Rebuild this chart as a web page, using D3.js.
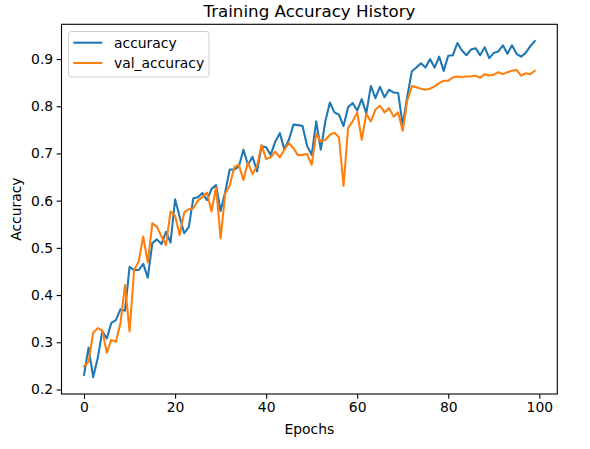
<!DOCTYPE html>
<html><head><meta charset="utf-8">
<script src="https://cdn.jsdelivr.net/npm/d3@7"></script>
<style>body{margin:0;background:#fff}svg{display:block}text{font-family:"DejaVu Sans",sans-serif;fill:#000}</style>
</head><body>
<svg id="c" width="590" height="449"></svg>
<script>
const epochs = d3.range(0, 100);
const accuracy = [0.231,0.289,0.226,0.266,0.323,0.308,0.341,0.347,0.370,0.367,
0.460,0.453,0.453,0.466,0.437,0.510,0.518,0.508,0.534,0.511,
0.603,0.566,0.531,0.544,0.605,0.607,0.616,0.601,0.625,0.633,
0.578,0.618,0.666,0.666,0.672,0.708,0.676,0.693,0.662,0.715,
0.713,0.697,0.725,0.743,0.709,0.729,0.761,0.760,0.758,0.716,
0.697,0.768,0.708,0.768,0.808,0.787,0.782,0.758,0.798,0.807,
0.791,0.815,0.785,0.843,0.817,0.841,0.819,0.835,0.829,0.828,
0.760,0.821,0.874,0.882,0.891,0.882,0.900,0.882,0.905,0.875,
0.907,0.908,0.934,0.918,0.908,0.920,0.923,0.908,0.925,0.902,
0.913,0.916,0.929,0.911,0.929,0.911,0.905,0.913,0.927,0.938];
const valAccuracy = [0.249,0.258,0.320,0.330,0.325,0.278,0.305,0.301,0.341,0.421,
0.323,0.453,0.471,0.524,0.469,0.552,0.545,0.524,0.506,0.577,
0.568,0.527,0.575,0.582,0.584,0.600,0.608,0.617,0.577,0.628,
0.520,0.614,0.632,0.671,0.676,0.644,0.681,0.656,0.674,0.718,
0.688,0.692,0.704,0.692,0.708,0.722,0.711,0.696,0.697,0.699,
0.676,0.742,0.725,0.729,0.739,0.744,0.734,0.631,0.754,0.768,
0.787,0.729,0.784,0.768,0.793,0.801,0.787,0.796,0.778,0.787,
0.748,0.812,0.843,0.840,0.837,0.835,0.837,0.842,0.849,0.854,
0.854,0.861,0.863,0.862,0.863,0.863,0.865,0.860,0.868,0.865,
0.867,0.872,0.868,0.872,0.875,0.877,0.865,0.870,0.868,0.875];
const xTicks = [0,20,40,60,80,100];
const yTicks = [0.2,0.3,0.4,0.5,0.6,0.7,0.8,0.9];
const seriesNames = ["accuracy","val_accuracy"];
const colors = ["#1f77b4","#ff7f0e"];

const svg = d3.select("#c");
const L=61.5, R=557.3, T=24.3, B=394;
const x = d3.scaleLinear().domain([-4.95,103.95]).range([L,R]);
const ymin=d3.min([...accuracy,...valAccuracy]), ymax=d3.max([...accuracy,...valAccuracy]);
const yr=ymax-ymin;
const y = d3.scaleLinear().domain([ymin-0.05*yr, ymax+0.05*yr]).range([B,T]);

const series=[accuracy,valAccuracy];
const line=d3.line().x((d,i)=>x(epochs[i])).y(d=>y(d));
svg.append("defs").append("clipPath").attr("id","clip").append("rect").attr("x",L).attr("y",T).attr("width",R-L).attr("height",B-T);
series.forEach((s,k)=>{
  svg.append("path").datum(s).attr("d",line).attr("fill","none").attr("stroke",colors[k])
    .attr("stroke-width",2.08).attr("stroke-linejoin","round").attr("stroke-linecap","square").attr("clip-path","url(#clip)");
});

const xa = svg.append("g").attr("transform",`translate(0,${B})`)
  .call(d3.axisBottom(x).tickValues(xTicks).tickFormat(d3.format("d")).tickSize(4.86).tickPadding(3.5));
const ya = svg.append("g").attr("transform",`translate(${L},0)`)
  .call(d3.axisLeft(y).tickValues(yTicks).tickFormat(d3.format(".1f")).tickSize(4.86).tickPadding(3.5));
[xa,ya].forEach(a=>{a.select(".domain").remove();a.selectAll("line").attr("stroke","#000").attr("stroke-width",1.1);
  a.selectAll("text").attr("font-size","13.9px").attr("font-family","DejaVu Sans");});
svg.append("rect").attr("x",L).attr("y",T).attr("width",R-L).attr("height",B-T).attr("fill","none").attr("stroke","#000").attr("stroke-width",1.1);

svg.append("text").attr("x",(L+R)/2).attr("y",17).attr("text-anchor","middle").attr("font-size","16.7px").text("Training Accuracy History");
svg.append("text").attr("x",(L+R)/2).attr("y",434).attr("text-anchor","middle").attr("font-size","13.9px").text("Epochs");
svg.append("text").attr("transform",`translate(21,${(T+B)/2}) rotate(-90)`).attr("text-anchor","middle").attr("font-size","13.9px").text("Accuracy");

const lg=svg.append("g");
lg.append("rect").attr("x",68.5).attr("y",31.5).attr("width",140.5).attr("height",45.5).attr("rx",2.8)
  .attr("fill","#fff").attr("fill-opacity",0.8).attr("stroke","#ccc").attr("stroke-width",1);
seriesNames.forEach((n,k)=>{
  const yy=42.7+k*20.3;
  lg.append("line").attr("x1",73.3).attr("x2",102.3).attr("y1",yy).attr("y2",yy).attr("stroke",colors[k]).attr("stroke-width",2.08);
  lg.append("text").attr("x",114).attr("y",yy+4.8).attr("font-size","13.9px").text(n);
});
</script>
</body></html>
